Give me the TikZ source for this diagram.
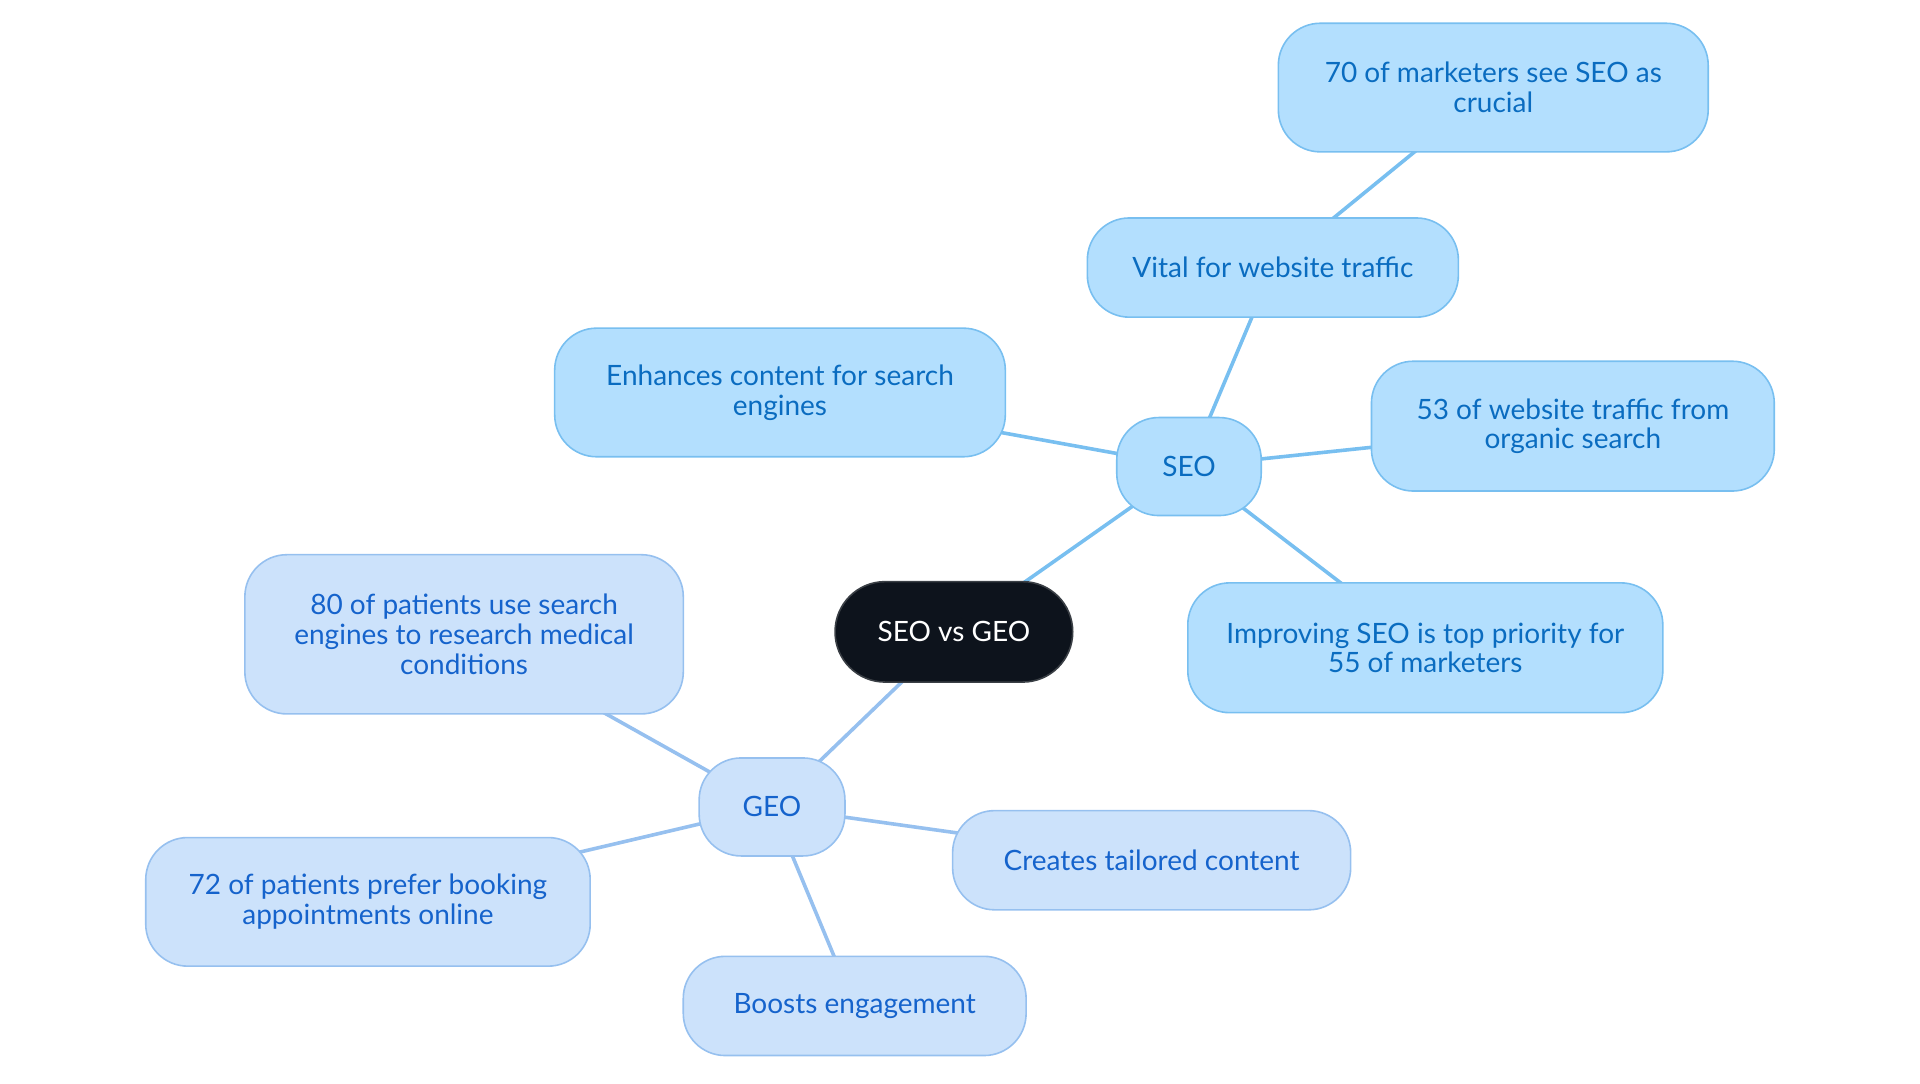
\documentclass[tikz,border=0pt]{standalone}
\usepackage{fontspec}
\setmainfont{Lato}
\usetikzlibrary{backgrounds}
\definecolor{seofill}{HTML}{B3DFFE}
\definecolor{seodraw}{HTML}{78BFF0}
\definecolor{seotext}{HTML}{0A6CC0}
\definecolor{geofill}{HTML}{CCE2FB}
\definecolor{geodraw}{HTML}{96C0EF}
\definecolor{geotext}{HTML}{1563CC}
\definecolor{rootfill}{HTML}{0D131C}
\definecolor{rootdraw}{HTML}{3A3F45}
\tikzset{
  box/.style={rounded corners=21pt, line width=0.8pt, inner sep=0pt, align=center,
    font=\fontsize{14pt}{14.8pt}\selectfont},
  seobox/.style={box, fill=seofill, draw=seodraw, text=seotext},
  geobox/.style={box, fill=geofill, draw=geodraw, text=geotext},
  rootbox/.style={box, rounded corners=25pt, fill=rootfill, draw=rootdraw, text=white},
  seoedge/.style={draw=seodraw, line width=1.8pt},
  geoedge/.style={draw=geodraw, line width=1.8pt},
}
\begin{document}
\begin{tikzpicture}[x=0.6122pt,y=-0.6122pt]
\useasboundingbox (0,0) rectangle (1568,884.5);
\node[rootbox, minimum width=118.8pt, minimum height=50.2pt] (root) at (779,516) {SEO vs GEO};
\node[seobox, minimum width=72.2pt, minimum height=49pt] (seo) at (971,381) {SEO};
\node[geobox, minimum width=72.9pt, minimum height=49pt] (geo) at (630.5,659) {GEO};
\node[seobox, minimum width=185.5pt, minimum height=49.6pt] (vital) at (1039.5,218.5) {Vital for website traffic};
\node[seobox, minimum width=214.9pt, minimum height=64.3pt] (s70) at (1219.5,71.5) {70 of marketers see SEO as\\crucial};
\node[seobox, minimum width=225.3pt, minimum height=64.3pt] (enh) at (637,320.5) {Enhances content for search\\engines};
\node[seobox, minimum width=201.4pt, minimum height=64.9pt] (s53) at (1284.5,348) {53 of website traffic from\\organic search};
\node[seobox, minimum width=237.5pt, minimum height=64.9pt] (imp) at (1164,529) {Improving SEO is top priority for\\55 of marketers};
\node[geobox, minimum width=219.2pt, minimum height=79.6pt] (g80) at (379,518) {80 of patients use search\\engines to research medical\\conditions};
\node[geobox, minimum width=222.2pt, minimum height=64.3pt] (g72) at (300.5,736.5) {72 of patients prefer booking\\appointments online};
\node[geobox, minimum width=199pt, minimum height=49.6pt] (cre) at (940.5,702.5) {Creates tailored content};
\node[geobox, minimum width=171.4pt, minimum height=49.6pt] (boo) at (698,821.5) {Boosts engagement};
\begin{scope}[on background layer]
\draw[seoedge] (root.center) -- (seo.center);
\draw[seoedge] (seo.center) -- (vital.center);
\draw[seoedge] (vital.center) -- (s70.center);
\draw[seoedge] (seo.center) -- (enh.center);
\draw[seoedge] (seo.center) -- (s53.center);
\draw[seoedge] (seo.center) -- (imp.center);
\draw[geoedge] (root.center) -- (geo.center);
\draw[geoedge] (geo.center) -- (g80.center);
\draw[geoedge] (geo.center) -- (g72.center);
\draw[geoedge] (geo.center) -- (cre.center);
\draw[geoedge] (geo.center) -- (boo.center);
\end{scope}
\end{tikzpicture}
\end{document}
